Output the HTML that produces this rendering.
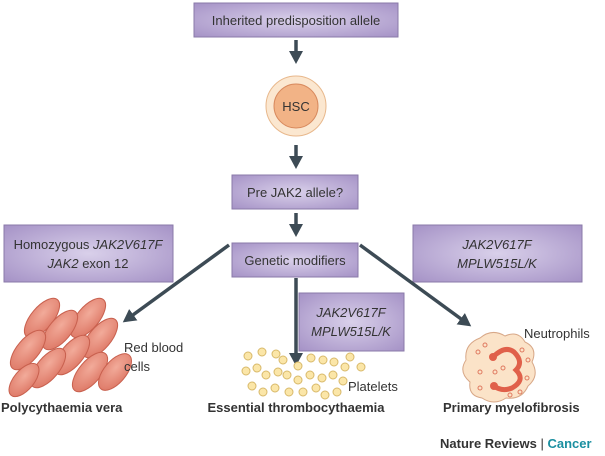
<!DOCTYPE html>
<html><head><meta charset="utf-8"><style>
body{margin:0;background:#fff;width:605px;height:456px;overflow:hidden}
svg{display:block}
text{font-family:"Liberation Sans",sans-serif;fill:#333}
</style></head><body>
<svg width="605" height="456" viewBox="0 0 605 456">
<defs>
<radialGradient id="pg" cx="50%" cy="50%" r="70%"><stop offset="0" stop-color="#d9d0ea"/><stop offset="1" stop-color="#a592c6"/></radialGradient>
<radialGradient id="rbc" cx="40%" cy="40%" r="60%"><stop offset="0" stop-color="#f2ab9a"/><stop offset="1" stop-color="#e07e6c"/></radialGradient>
<marker id="ah" markerWidth="14" markerHeight="14" refX="9" refY="7" orient="auto" markerUnits="userSpaceOnUse"><path d="M0,0 L13,7 L0,14 Z" fill="#3d4b55"/></marker>
</defs>
<g stroke="#8a7aa8" stroke-width="1" fill="url(#pg)">
<rect x="194" y="3" width="204" height="34"/>
<rect x="232" y="175" width="126" height="34"/>
<rect x="232" y="243" width="126" height="34"/>
<rect x="4" y="225" width="169" height="57"/>
<rect x="413" y="225" width="169" height="57"/>
<rect x="299" y="293" width="105" height="58"/>
</g>
<g font-size="13" text-anchor="middle">
<text x="296" y="25">Inherited predisposition allele</text>
<text x="295" y="197">Pre JAK2 allele?</text>
<text x="295" y="265">Genetic modifiers</text>
<text x="88" y="249">Homozygous <tspan font-style="italic">JAK2V617F</tspan></text>
<text x="88" y="268"><tspan font-style="italic">JAK2</tspan> exon 12</text>
<text x="497" y="249" font-style="italic">JAK2V617F</text>
<text x="497" y="268" font-style="italic">MPLW515L/K</text>
<text x="351" y="317" font-style="italic">JAK2V617F</text>
<text x="351" y="336" font-style="italic">MPLW515L/K</text>
</g>
<circle cx="296" cy="106" r="30" fill="#fbe7d0" stroke="#e8b88c"/>
<circle cx="296" cy="106" r="22" fill="#f2b386" stroke="#d88a5e"/>
<text x="296" y="111" font-size="13" text-anchor="middle">HSC</text>
<g stroke="#3d4b55" stroke-width="3.5" fill="none" marker-end="url(#ah)">
<line x1="296" y1="40" x2="296" y2="60"/>
<line x1="296" y1="145" x2="296" y2="165"/>
<line x1="296" y1="213" x2="296" y2="233"/>
<line x1="296" y1="278" x2="296" y2="362"/>
<line x1="229" y1="245" x2="126" y2="320"/>
<line x1="360" y1="245" x2="468" y2="324"/>
</g>
<g fill="url(#rbc)" stroke="#c8604e" stroke-width="1">
<ellipse cx="42" cy="318" rx="11" ry="24" transform="rotate(40 42 318)"/>
<ellipse cx="88" cy="318" rx="11" ry="24" transform="rotate(40 88 318)"/>
<ellipse cx="60" cy="330" rx="11" ry="24" transform="rotate(40 60 330)"/>
<ellipse cx="100" cy="338" rx="11" ry="24" transform="rotate(40 100 338)"/>
<ellipse cx="28" cy="350" rx="11" ry="24" transform="rotate(40 28 350)"/>
<ellipse cx="72" cy="355" rx="11" ry="24" transform="rotate(40 72 355)"/>
<ellipse cx="48" cy="368" rx="11" ry="24" transform="rotate(40 48 368)"/>
<ellipse cx="90" cy="372" rx="11" ry="24" transform="rotate(40 90 372)"/>
<ellipse cx="115" cy="372" rx="11" ry="22" transform="rotate(40 115 372)"/>
<ellipse cx="24" cy="380" rx="10" ry="20" transform="rotate(40 24 380)"/>
</g>
<text x="124" y="352" font-size="13">Red blood</text>
<text x="124" y="371" font-size="13">cells</text>
<g fill="#fbe6a8" stroke="#d8b96a" stroke-width="1">
<circle cx="248" cy="356" r="4"/><circle cx="262" cy="352" r="4"/><circle cx="276" cy="354" r="4"/><circle cx="283" cy="360" r="4"/><circle cx="298" cy="366" r="4"/><circle cx="311" cy="358" r="4"/><circle cx="323" cy="360" r="4"/><circle cx="334" cy="362" r="4"/><circle cx="345" cy="367" r="4"/><circle cx="350" cy="357" r="4"/><circle cx="361" cy="367" r="4"/>
<circle cx="246" cy="371" r="4"/><circle cx="257" cy="368" r="4"/><circle cx="266" cy="375" r="4"/><circle cx="278" cy="372" r="4"/><circle cx="287" cy="375" r="4"/><circle cx="298" cy="380" r="4"/><circle cx="310" cy="375" r="4"/><circle cx="322" cy="378" r="4"/><circle cx="333" cy="375" r="4"/><circle cx="343" cy="381" r="4"/>
<circle cx="252" cy="386" r="4"/><circle cx="263" cy="392" r="4"/><circle cx="275" cy="388" r="4"/><circle cx="289" cy="392" r="4"/><circle cx="303" cy="392" r="4"/><circle cx="316" cy="388" r="4"/><circle cx="325" cy="395" r="4"/><circle cx="337" cy="392" r="4"/>
</g>
<text x="348" y="391" font-size="13">Platelets</text>
<path d="M480,338 Q492,328 505,336 Q518,330 525,342 Q538,348 532,362 Q540,376 528,386 Q522,400 506,398 Q494,406 482,398 Q468,396 470,382 Q458,372 466,360 Q464,344 480,338 Z" fill="#fbe3c8" stroke="#d8a888"/>
<path d="M493,357 Q505,345 514,352 Q524,362 516,370 Q526,380 512,388 Q502,392 494,386" fill="none" stroke="#e0604a" stroke-width="5"/>
<circle cx="493" cy="357" r="4" fill="#e0604a"/><circle cx="494" cy="386" r="4" fill="#e0604a"/>
<g fill="none" stroke="#e07a60" stroke-width="1"><circle cx="478" cy="352" r="2"/><circle cx="485" cy="345" r="2"/><circle cx="522" cy="350" r="2"/><circle cx="528" cy="360" r="2"/><circle cx="480" cy="372" r="2"/><circle cx="495" cy="372" r="2"/><circle cx="503" cy="368" r="2"/><circle cx="527" cy="378" r="2"/><circle cx="480" cy="388" r="2"/><circle cx="510" cy="395" r="2"/><circle cx="520" cy="392" r="2"/></g>
<text x="524" y="338" font-size="13">Neutrophils</text>
<g font-size="13" font-weight="bold" fill="#222">
<text x="1" y="412">Polycythaemia vera</text>
<text x="296" y="412" text-anchor="middle">Essential thrombocythaemia</text>
<text x="443" y="412">Primary myelofibrosis</text>
</g>
<text x="440" y="448" font-size="13" font-weight="bold">Nature Reviews <tspan font-weight="normal">|</tspan> <tspan fill="#1a8fa0">Cancer</tspan></text>
</svg>
</body></html>
